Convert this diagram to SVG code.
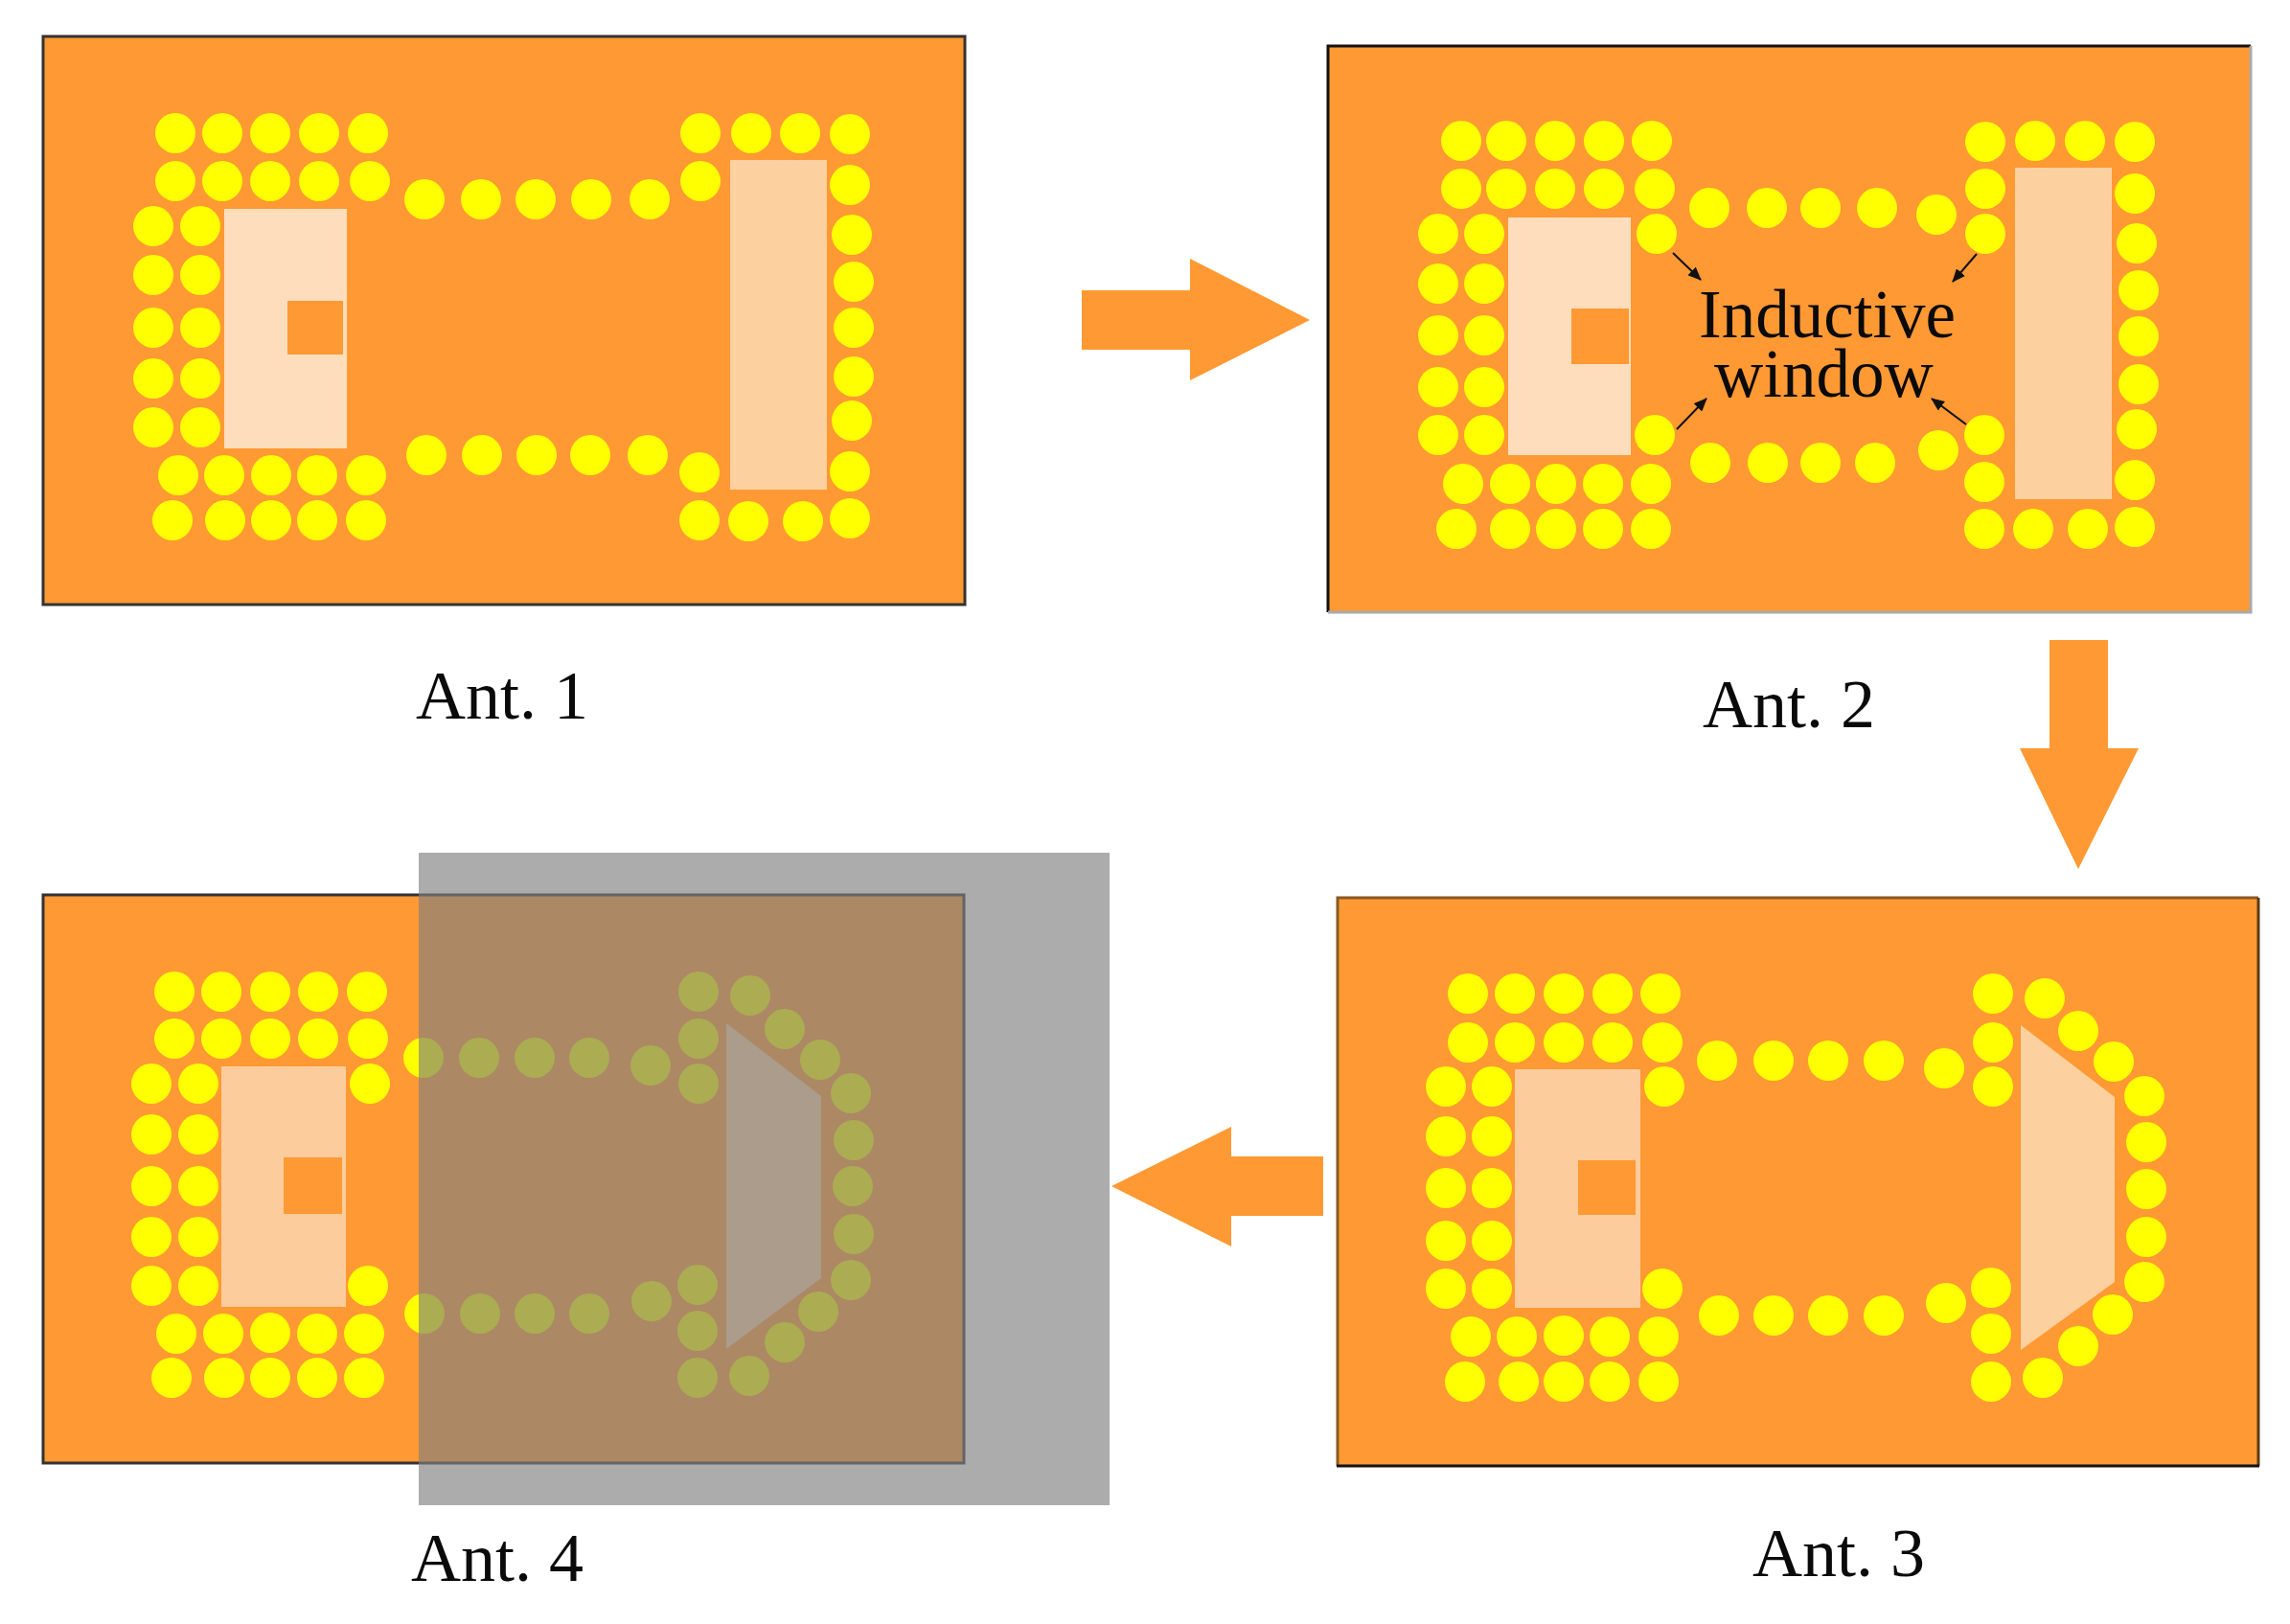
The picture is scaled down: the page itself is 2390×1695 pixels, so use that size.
<svg xmlns="http://www.w3.org/2000/svg" width="2390" height="1695" viewBox="0 0 2390 1695">
<style>
.board{fill:#FF9933;stroke:#333;stroke-width:3}
.edge{fill:none;stroke-width:3}
.via{fill:#FFFF00}
.via ellipse{rx:21px;ry:21px}
.pl{fill:#FEDDBD}
.pl2{fill:#FDCC9C}
.pr{fill:#FDD0A0}
.slot{fill:#FF9933}
.big{fill:#FF9933}
.tip{stroke:#111;stroke-width:2;fill:none;marker-end:url(#ah)}
text{font-family:"Liberation Serif","Times New Roman",serif;font-size:72px;fill:#0a0a0a}
</style>
<defs>
<marker id="ah" markerUnits="userSpaceOnUse" markerWidth="14" markerHeight="12" refX="13" refY="6" orient="auto"><path d="M0 0L14 6L0 12Z" fill="#111"/></marker>
</defs>
<rect width="2390" height="1695" fill="#fff"/>
<g id="ant1">
<rect class="board" x="45" y="38" width="962" height="593"/>
<rect class="pl" x="234" y="218" width="128" height="250"/>
<rect class="slot" x="300" y="314" width="58" height="56"/>
<rect class="pr" x="762" y="167" width="101" height="344"/>
<g class="via">
<ellipse cx="183" cy="139"/><ellipse cx="232" cy="139"/><ellipse cx="282" cy="139"/><ellipse cx="333" cy="139"/><ellipse cx="384" cy="139"/>
<ellipse cx="731" cy="139"/><ellipse cx="784" cy="139"/><ellipse cx="835" cy="139"/><ellipse cx="887" cy="140"/>
<ellipse cx="183" cy="189"/><ellipse cx="232" cy="189"/><ellipse cx="282" cy="189"/><ellipse cx="333" cy="189"/><ellipse cx="386" cy="189"/>
<ellipse cx="731" cy="189"/><ellipse cx="887" cy="193"/>
<ellipse cx="443" cy="208"/><ellipse cx="502" cy="208"/><ellipse cx="559" cy="208"/><ellipse cx="617" cy="208"/><ellipse cx="678" cy="208"/>
<ellipse cx="160" cy="236"/><ellipse cx="209" cy="236"/><ellipse cx="160" cy="287"/><ellipse cx="209" cy="287"/><ellipse cx="160" cy="342"/><ellipse cx="209" cy="342"/><ellipse cx="160" cy="395"/><ellipse cx="209" cy="395"/><ellipse cx="160" cy="446"/><ellipse cx="209" cy="446"/>
<ellipse cx="889" cy="245"/><ellipse cx="891" cy="294"/><ellipse cx="891" cy="342"/><ellipse cx="891" cy="393"/><ellipse cx="889" cy="439"/><ellipse cx="887" cy="492"/>
<ellipse cx="186" cy="496"/><ellipse cx="234" cy="496"/><ellipse cx="283" cy="496"/><ellipse cx="331" cy="496"/><ellipse cx="382" cy="496"/>
<ellipse cx="180" cy="543"/><ellipse cx="235" cy="543"/><ellipse cx="283" cy="543"/><ellipse cx="331" cy="543"/><ellipse cx="382" cy="543"/>
<ellipse cx="445" cy="475"/><ellipse cx="503" cy="475"/><ellipse cx="560" cy="475"/><ellipse cx="616" cy="475"/><ellipse cx="676" cy="475"/><ellipse cx="730" cy="493"/>
<ellipse cx="730" cy="543"/><ellipse cx="781" cy="544"/><ellipse cx="838" cy="544"/><ellipse cx="887" cy="541"/>
</g>
<text x="434" y="750">Ant. 1</text>
</g>
<g id="ant2">
<rect class="board" style="stroke:none" x="1386" y="48" width="963" height="591"/>
<path class="edge" stroke="#111" d="M1386 639V48H2349"/>
<path class="edge" stroke="#aaa" d="M2349 48V639H1386"/>
<rect class="pl" x="1574" y="227" width="128" height="248"/>
<rect class="slot" x="1640" y="322" width="60" height="58"/>
<rect class="pr" x="2103" y="175" width="101" height="346"/>
<g class="via">
<ellipse cx="1525" cy="147"/><ellipse cx="1572" cy="147"/><ellipse cx="1623" cy="147"/><ellipse cx="1674" cy="147"/><ellipse cx="1724" cy="147"/>
<ellipse cx="2072" cy="148"/><ellipse cx="2124" cy="147"/><ellipse cx="2176" cy="147"/><ellipse cx="2228" cy="148"/>
<ellipse cx="1525" cy="197"/><ellipse cx="1572" cy="197"/><ellipse cx="1623" cy="197"/><ellipse cx="1674" cy="197"/><ellipse cx="1727" cy="197"/>
<ellipse cx="2072" cy="197"/><ellipse cx="2228" cy="202"/>
<ellipse cx="1784" cy="217"/><ellipse cx="1844" cy="217"/><ellipse cx="1900" cy="217"/><ellipse cx="1959" cy="217"/><ellipse cx="2021" cy="224"/>
<ellipse cx="1729" cy="244"/><ellipse cx="2072" cy="244"/>
<ellipse cx="1501" cy="244"/><ellipse cx="1549" cy="244"/><ellipse cx="1501" cy="296"/><ellipse cx="1549" cy="296"/><ellipse cx="1501" cy="350"/><ellipse cx="1549" cy="350"/><ellipse cx="1501" cy="404"/><ellipse cx="1549" cy="404"/><ellipse cx="1501" cy="454"/><ellipse cx="1549" cy="454"/>
<ellipse cx="2230" cy="254"/><ellipse cx="2232" cy="303"/><ellipse cx="2232" cy="351"/><ellipse cx="2232" cy="401"/><ellipse cx="2230" cy="448"/><ellipse cx="2228" cy="501"/>
<ellipse cx="1527" cy="505"/><ellipse cx="1576" cy="505"/><ellipse cx="1624" cy="505"/><ellipse cx="1673" cy="505"/><ellipse cx="1723" cy="505"/>
<ellipse cx="1520" cy="552"/><ellipse cx="1576" cy="552"/><ellipse cx="1624" cy="552"/><ellipse cx="1673" cy="552"/><ellipse cx="1723" cy="552"/>
<ellipse cx="1727" cy="454"/>
<ellipse cx="1785" cy="483"/><ellipse cx="1845" cy="483"/><ellipse cx="1900" cy="483"/><ellipse cx="1957" cy="483"/><ellipse cx="2023" cy="470"/>
<ellipse cx="2071" cy="454"/><ellipse cx="2071" cy="503"/>
<ellipse cx="2071" cy="552"/><ellipse cx="2122" cy="552"/><ellipse cx="2179" cy="552"/><ellipse cx="2228" cy="550"/>
</g>
<text style="font-size:71px"><tspan x="1773" y="352">Inductive</tspan><tspan x="1789" y="414">window</tspan></text>
<text x="1777" y="759">Ant. 2</text>
</g>
<g id="ant3">
<rect class="board" style="stroke:none" x="1396" y="937" width="961" height="593"/>
<path class="edge" stroke="#8a5a20" d="M1396 1530V937H2357"/>
<path class="edge" stroke="#5a3a14" d="M2357 937V1530"/>
<path class="edge" stroke="#111" d="M2358 1530H1395"/>
<rect class="pl2" x="1581" y="1116" width="131" height="249"/>
<rect class="slot" x="1647" y="1211" width="60" height="57"/>
<polygon class="pr" points="2109,1070 2207,1145 2207,1338 2109,1409"/>
<g class="via">
<ellipse cx="1532" cy="1037"/><ellipse cx="1581" cy="1037"/><ellipse cx="1632" cy="1037"/><ellipse cx="1683" cy="1037"/><ellipse cx="1733" cy="1037"/>
<ellipse cx="1532" cy="1088"/><ellipse cx="1581" cy="1088"/><ellipse cx="1632" cy="1088"/><ellipse cx="1683" cy="1088"/><ellipse cx="1735" cy="1088"/>
<ellipse cx="2080" cy="1037"/><ellipse cx="2134" cy="1042"/><ellipse cx="2169" cy="1076"/><ellipse cx="2206" cy="1108"/><ellipse cx="2238" cy="1144"/><ellipse cx="2240" cy="1192"/><ellipse cx="2240" cy="1241"/><ellipse cx="2240" cy="1291"/><ellipse cx="2238" cy="1338"/><ellipse cx="2205" cy="1372"/><ellipse cx="2169" cy="1405"/><ellipse cx="2132" cy="1438"/><ellipse cx="2078" cy="1442"/><ellipse cx="2078" cy="1392"/><ellipse cx="2078" cy="1344"/><ellipse cx="2080" cy="1088"/><ellipse cx="2080" cy="1134"/>
<ellipse cx="1792" cy="1107"/><ellipse cx="1851" cy="1107"/><ellipse cx="1908" cy="1107"/><ellipse cx="1966" cy="1107"/><ellipse cx="2029" cy="1115"/><ellipse cx="1737" cy="1134"/>
<ellipse cx="1509" cy="1134"/><ellipse cx="1557" cy="1134"/><ellipse cx="1509" cy="1186"/><ellipse cx="1557" cy="1186"/><ellipse cx="1509" cy="1240"/><ellipse cx="1557" cy="1240"/><ellipse cx="1509" cy="1295"/><ellipse cx="1557" cy="1295"/><ellipse cx="1509" cy="1345"/><ellipse cx="1557" cy="1345"/><ellipse cx="1735" cy="1345"/>
<ellipse cx="1535" cy="1395"/><ellipse cx="1583" cy="1395"/><ellipse cx="1632" cy="1394"/><ellipse cx="1680" cy="1395"/><ellipse cx="1731" cy="1395"/>
<ellipse cx="1529" cy="1442"/><ellipse cx="1585" cy="1442"/><ellipse cx="1632" cy="1442"/><ellipse cx="1680" cy="1442"/><ellipse cx="1731" cy="1442"/>
<ellipse cx="1794" cy="1373"/><ellipse cx="1851" cy="1373"/><ellipse cx="1908" cy="1373"/><ellipse cx="1966" cy="1373"/><ellipse cx="2031" cy="1360"/>
</g>
<text x="1829" y="1645">Ant. 3</text>
</g>
<g id="ant4">
<rect class="board" x="45" y="934" width="961" height="593"/>
<rect class="pl2" x="231" y="1113" width="130" height="251"/>
<rect class="slot" x="296" y="1208" width="61" height="59"/>
<polygon class="pr" points="758,1068 857,1144 857,1334 758,1408"/>
<g class="via">
<ellipse cx="182" cy="1035"/><ellipse cx="231" cy="1035"/><ellipse cx="282" cy="1035"/><ellipse cx="332" cy="1035"/><ellipse cx="383" cy="1035"/>
<ellipse cx="182" cy="1084"/><ellipse cx="231" cy="1084"/><ellipse cx="282" cy="1084"/><ellipse cx="332" cy="1084"/><ellipse cx="384" cy="1084"/>
<ellipse cx="729" cy="1035"/><ellipse cx="783" cy="1039"/><ellipse cx="819" cy="1074"/><ellipse cx="856" cy="1106"/><ellipse cx="888" cy="1141"/><ellipse cx="891" cy="1190"/><ellipse cx="890" cy="1238"/><ellipse cx="891" cy="1288"/><ellipse cx="888" cy="1336"/><ellipse cx="854" cy="1369"/><ellipse cx="819" cy="1401"/><ellipse cx="782" cy="1436"/><ellipse cx="728" cy="1438"/><ellipse cx="728" cy="1389"/><ellipse cx="728" cy="1341"/><ellipse cx="729" cy="1084"/><ellipse cx="729" cy="1131"/>
<ellipse cx="442" cy="1104"/><ellipse cx="500" cy="1104"/><ellipse cx="558" cy="1104"/><ellipse cx="615" cy="1104"/><ellipse cx="679" cy="1112"/><ellipse cx="386" cy="1131"/>
<ellipse cx="158" cy="1131"/><ellipse cx="207" cy="1131"/><ellipse cx="158" cy="1184"/><ellipse cx="207" cy="1184"/><ellipse cx="158" cy="1238"/><ellipse cx="207" cy="1238"/><ellipse cx="158" cy="1291"/><ellipse cx="207" cy="1291"/><ellipse cx="158" cy="1342"/><ellipse cx="207" cy="1342"/><ellipse cx="384" cy="1342"/>
<ellipse cx="184" cy="1392"/><ellipse cx="233" cy="1392"/><ellipse cx="282" cy="1391"/><ellipse cx="331" cy="1392"/><ellipse cx="380" cy="1392"/>
<ellipse cx="179" cy="1438"/><ellipse cx="234" cy="1438"/><ellipse cx="282" cy="1438"/><ellipse cx="331" cy="1438"/><ellipse cx="380" cy="1438"/>
<ellipse cx="443" cy="1371"/><ellipse cx="501" cy="1371"/><ellipse cx="558" cy="1371"/><ellipse cx="615" cy="1371"/><ellipse cx="680" cy="1358"/>
</g>
<rect id="ant4-overlay" x="437" y="890" width="721" height="681" fill="#7f7f7f" fill-opacity=".65"/>
<text x="429" y="1650">Ant. 4</text>
</g>
<g id="connectors">
<polygon class="big" points="1129,303 1242,303 1242,270 1367,334 1242,397 1242,365 1129,365"/>
<polygon class="big" points="2139,668 2200,668 2200,781 2232,781 2169,907 2108,781 2139,781"/>
<polygon class="big" points="1381,1207 1285,1207 1285,1176 1160,1238 1285,1301 1285,1269 1381,1269"/>
<line class="tip" x1="1746" y1="264" x2="1775" y2="292"/>
<line class="tip" x1="2063" y1="265" x2="2038" y2="294"/>
<line class="tip" x1="1750" y1="448" x2="1781" y2="416"/>
<line class="tip" x1="2052" y1="443" x2="2016" y2="416"/>
</g>
</svg>
